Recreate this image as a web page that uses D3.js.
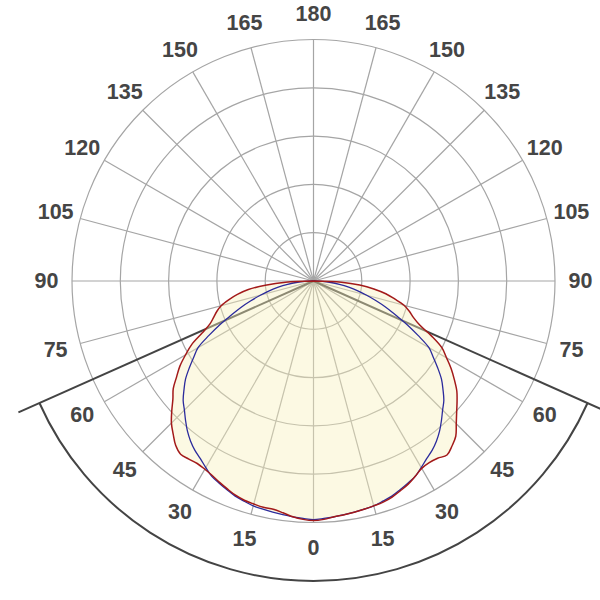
<!DOCTYPE html>
<html>
<head>
<meta charset="utf-8">
<script src="https://cdn.jsdelivr.net/npm/d3@7"></script>
<style>
  body { margin: 0; background: #fff; }
  #graf { width: 600px; height: 600px; }
  .etiqueta { font-family: 'Liberation Sans', Arial, sans-serif; font-weight: bold; font-size: 21.5px; fill: #454545; }
</style>
</head>
<body>
<div id="graf"></div>
<script>
// I. Data
// gamma angles, degrees measured from nadir (straight down)
gammas = [0, 2.5, 5, 7.5, 10, 12.5, 15, 17.5, 20, 22.5, 25, 27.5, 30, 32.5, 35, 37.5, 40, 42.5,
          45, 47.5, 50, 52.5, 55, 57.5, 60, 62.5, 65, 67.5, 70, 72.5, 75, 77.5, 80, 82.5, 85, 87.5, 90]

// C0 plane (right half, red)
redC0 = [248, 247, 245, 244, 243, 242, 241, 240, 238, 235, 232, 228, 224, 223, 224, 227, 223, 218,
         209, 201, 194, 187, 178, 169, 159, 150, 135, 119, 110, 104, 97, 86, 76, 63, 48, 29, 0]

// C180 plane (left half, red)
redC180 = [248, 247, 245, 242, 240, 240, 239, 238, 236, 233, 230, 227, 225, 224, 225, 226, 222, 215,
           208, 199, 190, 183, 173, 164, 153, 142, 127, 116, 110, 105, 99, 90, 80, 68, 50, 29, 0]

// C90 / C270 plane (blue, same on both sides)
blueC90 = [247, 246, 245, 244, 243, 242, 241, 239, 237, 234, 231, 228, 223, 218, 214, 209, 203, 196,
           189, 183, 175, 167, 157, 147, 138, 122, 107, 92, 80, 68, 57, 47, 37, 27, 18, 9, 0]

// rings and angle labels
anillos = [50, 100, 150, 200, 250]
etiquetas = [0, 15, 30, 45, 60, 75, 90, 105, 120, 135, 150, 165, 180]

// II. Setup
graf = d3.select('#graf')
ancho = 600
alto = 600
cx = 313.5
cy = 281
corte = 66          // shielding angle of the luminaire
radioArco = 300
radioEtiqueta = 267

svg = graf.append('svg')
          .attr('width', ancho)
          .attr('height', alto)

g = svg.append('g')
       .attr('transform', `translate(${cx}, ${cy})`)

r = d3.scaleLinear()
      .domain([0, 250])
      .range([0, 241.5])

rad = d => d * Math.PI / 180

// grid: circles
g.selectAll('circle.anillo')
  .data(anillos)
  .enter()
  .append('circle')
    .attr('class', 'anillo')
    .attr('r', d => r(d))
    .attr('fill', 'none')
    .attr('stroke', '#a5a5a5')
    .attr('stroke-width', 1.2)

// grid: spokes every 15 degrees
rayos = etiquetas.concat(etiquetas.slice(1, -1).map(d => -d))
g.selectAll('line.rayo')
  .data(rayos)
  .enter()
  .append('line')
    .attr('class', 'rayo')
    .attr('x1', 0)
    .attr('y1', 0)
    .attr('x2', d => r(250) * Math.sin(rad(d)))
    .attr('y2', d => r(250) * Math.cos(rad(d)))
    .attr('stroke', '#a5a5a5')
    .attr('stroke-width', 1.2)

// shielding lines and arc
g.selectAll('line.corte')
  .data([-corte, corte])
  .enter()
  .append('line')
    .attr('class', 'corte')
    .attr('x1', 0)
    .attr('y1', 0)
    .attr('x2', d => 323 * Math.sin(rad(d)))
    .attr('y2', d => 323 * Math.cos(rad(d)))
    .attr('stroke', '#444')
    .attr('stroke-width', 2)

arco = d3.path()
arco.arc(0, 0, radioArco, Math.PI / 2 - rad(corte), Math.PI / 2 + rad(corte))
g.append('path')
  .attr('d', arco.toString())
  .attr('fill', 'none')
  .attr('stroke', '#444')
  .attr('stroke-width', 2)

// III. Curves
// left half goes from 90 down to 0, right half from 0 up to 90
function puntos(izq, der) {
  let p = []
  for (let i = gammas.length - 1; i >= 0; i--) p.push([Math.PI + rad(gammas[i]), r(izq[i])])
  for (let i = 1; i < gammas.length; i++) p.push([Math.PI - rad(gammas[i]), r(der[i])])
  return p
}

linea = d3.lineRadial()
          .angle(d => d[0])
          .radius(d => d[1])
          .curve(d3.curveCatmullRom)

curvaRoja = puntos(redC180, redC0)
curvaAzul = puntos(blueC90, blueC90)

relleno = g.append('g')
           .attr('opacity', 0.4)

relleno.selectAll('path')
  .data([curvaRoja, curvaAzul])
  .enter()
  .append('path')
    .attr('d', d => linea(d) + 'Z')
    .attr('fill', '#faf2bb')

g.append('path')
  .attr('d', linea(curvaAzul))
  .attr('fill', 'none')
  .attr('stroke', '#2b2b9c')
  .attr('stroke-width', 1.3)

g.append('path')
  .attr('d', linea(curvaRoja))
  .attr('fill', 'none')
  .attr('stroke', '#a31a1a')
  .attr('stroke-width', 1.5)

// IV. Angle labels
ladoEtiquetas = etiquetas.map(d => ({ v: d, a: d }))
                .concat(etiquetas.slice(1, -1).map(d => ({ v: d, a: -d })))

g.selectAll('text.etiqueta')
  .data(ladoEtiquetas)
  .enter()
  .append('text')
    .attr('class', 'etiqueta')
    .attr('x', d => radioEtiqueta * Math.sin(rad(d.a)))
    .attr('y', d => radioEtiqueta * Math.cos(rad(d.a)))
    .attr('text-anchor', 'middle')
    .attr('dominant-baseline', 'central')
    .text(d => d.v)
</script>
</body>
</html>
